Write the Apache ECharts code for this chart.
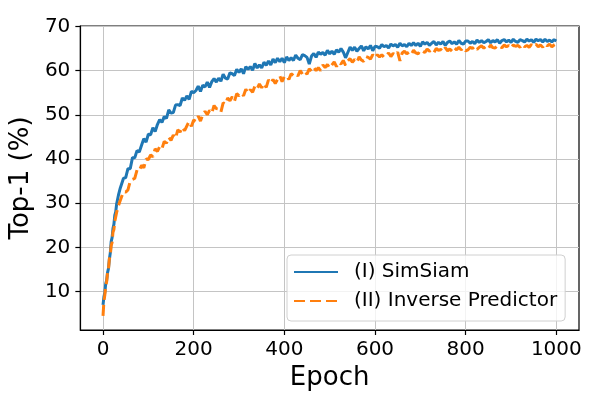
<!DOCTYPE html>
<html>
<head>
<meta charset="utf-8">
<script src="https://cdn.jsdelivr.net/npm/echarts@6/dist/echarts.min.js"></script>
<style>
html,body{margin:0;padding:0;background:#fff;}
#c{width:599px;height:402px;}
</style>
</head>
<body>
<div id="c"></div>
<script>
const epochs = [0,2,4,6,8,10,12,14,16,18,20,22,24,26,28,30,32,34,36,38,40,
45,50,55,60,65,70,75,80,85,90,95,100,105,110,115,120,125,130,135,140,145,150,155,160,165,170,175,180,185,190,195,200,
205,210,215,220,225,230,235,240,245,250,255,260,265,270,275,280,285,290,295,300,305,310,315,320,325,330,335,340,345,350,355,360,365,370,375,380,385,390,395,400,
405,410,415,420,425,430,435,440,445,450,455,460,465,470,475,480,485,490,495,500,505,510,515,520,525,530,535,540,545,550,555,560,565,570,575,580,585,590,595,600,
605,610,615,620,625,630,635,640,645,650,655,660,665,670,675,680,685,690,695,700,705,710,715,720,725,730,735,740,745,750,755,760,765,770,775,780,785,790,795,800,
805,810,815,820,825,830,835,840,845,850,855,860,865,870,875,880,885,890,895,900,905,910,915,920,925,930,935,940,945,950,955,960,965,970,975,980,985,990,995,1000];

const simsiam = [7.0,8.8,9.8,11.8,12.5,14.3,15.2,17.3,18.7,21.3,22.2,24.3,25.2,27.3,28.0,29.8,30.2,31.8,32.0,33.4,33.5,
35.6,35.8,37.8,37.8,40.3,40.3,41.9,41.6,43.1,44.6,43.8,45.6,45.5,47.1,46.2,47.8,48.9,48.3,49.6,49.2,51.1,50.4,50.5,52.2,52.3,52.1,53.8,53.3,54.3,53.5,55.3,55.0,
55.5,56.5,55.3,56.7,56.3,57.4,56.2,57.5,58.2,57.4,58.3,57.6,59.2,58.3,58.1,59.5,59.3,58.9,60.3,59.6,60.4,59.3,60.9,60.3,60.9,60.1,61.6,60.6,61.3,60.6,61.9,61.2,62.2,61.3,62.6,61.8,62.8,62.0,62.8,61.8,
63.1,62.3,62.9,62.3,63.5,62.8,62.5,63.6,63.4,63.0,61.5,63.3,63.9,63.0,64.2,63.7,64.1,63.5,64.6,63.8,64.4,63.7,64.7,64.2,65.0,64.2,62.9,64.1,65.3,64.6,65.3,64.4,65.0,65.6,64.5,65.4,64.9,65.7,64.5,65.5,
65.4,65.1,65.9,65.4,65.7,65.1,66.0,65.6,65.9,65.3,66.2,65.6,65.9,65.4,66.2,65.7,66.3,65.7,66.2,65.5,66.5,66.0,66.4,65.7,66.2,66.6,65.8,66.4,66.0,66.6,65.7,66.4,66.7,66.1,66.5,66.0,66.8,66.2,66.0,66.7,
66.7,66.2,66.6,66.1,66.9,66.4,66.8,66.3,66.6,67.0,66.3,66.8,66.5,67.0,66.2,66.8,67.0,66.5,66.9,66.4,67.1,66.6,66.4,67.0,66.8,66.5,67.1,66.7,67.0,66.4,67.1,66.8,67.0,66.5,67.1,66.6,66.9,66.5,67.0,66.7];

const inversePredictor = [4.5,7.8,9.2,11.3,12.2,14.3,15.0,17.4,18.1,20.4,21.1,23.5,24.0,25.9,26.1,27.9,27.8,29.4,29.2,30.6,30.4,
32.6,32.5,33.0,35.0,35.4,35.6,37.5,37.3,38.6,38.0,40.0,39.9,40.9,40.5,42.3,41.7,42.8,42.3,44.0,43.6,44.9,44.2,45.4,44.7,46.6,46.1,47.2,46.4,47.5,48.5,47.4,48.8,
48.5,49.7,48.6,50.0,50.8,50.0,51.0,50.4,52.1,51.4,51.3,50.6,52.7,52.4,53.8,53.2,54.1,53.1,54.8,54.3,54.9,54.3,55.8,54.9,55.7,55.1,56.5,55.9,57.0,56.1,57.1,56.2,57.9,57.2,58.0,57.1,58.0,58.8,57.5,58.7,
58.8,58.0,59.3,58.9,59.3,58.8,60.0,59.2,59.8,59.2,60.4,59.9,60.7,60.0,60.7,60.0,61.3,60.7,61.4,60.6,61.3,62.0,60.9,61.9,61.5,62.3,61.2,62.2,62.7,61.9,62.5,61.9,63.1,62.4,62.1,63.2,63.0,62.6,63.6,62.9,
63.6,63.1,63.6,63.0,63.5,64.0,63.2,63.9,63.5,64.2,62.2,64.0,64.4,63.8,64.2,63.7,64.6,64.0,63.8,64.6,64.4,64.1,64.9,64.4,64.7,64.1,65.0,64.6,64.8,64.3,65.2,64.5,64.9,64.4,65.2,64.7,65.3,64.7,65.2,64.5,
64.7,65.3,65.0,65.5,64.8,65.3,65.6,65.1,65.5,65.0,65.8,65.2,65.1,65.7,65.5,65.2,65.8,65.4,65.7,65.1,65.8,65.5,65.7,65.3,66.0,65.4,65.7,65.3,65.9,65.5,66.0,65.4,65.8,65.3,66.1,65.6,66.0,65.4,65.8,66.1];

const xTicks = [0,200,400,600,800,1000];
const yTicks = [10,20,30,40,50,60,70];
const seriesNames = ['(I) SimSiam','(II) Inverse Predictor'];

const FONT = 'DejaVu Sans';
const chart = echarts.init(document.getElementById('c'), null, {renderer:'canvas'});
chart.setOption({
  animation: false,
  backgroundColor: '#fff',
  grid: {left:76, right:20, top:26, bottom:72, show:true, borderColor:'#000', borderWidth:1.2, backgroundColor:'transparent'},
  legend: {
    orient:'vertical', left:287, top:255,
    data: seriesNames,
    itemWidth:44, itemHeight:14, itemGap:9,
    padding:[7,8,10,6],
    itemStyle:{opacity:0, color:'rgba(0,0,0,0)', borderWidth:0},
    backgroundColor:'rgba(255,255,255,0.8)', borderColor:'#d0d0d0', borderWidth:1, borderRadius:4,
    textStyle:{fontFamily:FONT, fontSize:20, color:'#000', lineHeight:20, padding:[0,0,0,11]}
  },
  xAxis: {
    type:'value', min:-50, max:1050,
    name:'Epoch', nameLocation:'middle', nameGap:34,
    nameTextStyle:{fontFamily:FONT, fontSize:26, color:'#000'},
    axisLine:{show:true, onZero:false, lineStyle:{color:'#000', width:1.2}},
    axisTick:{show:true, length:5, customValues:xTicks, lineStyle:{color:'#000', width:1.2}},
    axisLabel:{customValues:xTicks, formatter:(v)=>String(v), fontFamily:FONT, fontSize:20, color:'#000', margin:10},
    splitLine:{show:true, lineStyle:{color:'#c4c4c4', width:1}}
  },
  yAxis: {
    type:'value', min:1.3, max:70.1,
    name:'Top-1 (%)', nameLocation:'middle', nameGap:42,
    nameTextStyle:{fontFamily:FONT, fontSize:26, color:'#000'},
    axisLine:{show:true, onZero:false, lineStyle:{color:'#000', width:1.2}},
    axisTick:{show:true, length:5, customValues:yTicks, lineStyle:{color:'#000', width:1.2}},
    axisLabel:{customValues:yTicks, formatter:(v)=>String(v), fontFamily:FONT, fontSize:20, color:'#000', margin:10},
    splitLine:{show:true, lineStyle:{color:'#c4c4c4', width:1}}
  },
  series: [
    {name:seriesNames[0], type:'line', symbol:'none', data: epochs.map((e,i)=>[e, simsiam[i]]),
     lineStyle:{color:'#1f77b4', width:3}, itemStyle:{color:'#1f77b4'}},
    {name:seriesNames[1], type:'line', symbol:'none', data: epochs.map((e,i)=>[e, inversePredictor[i]]),
     lineStyle:{color:'#ff7f0e', width:3, type:[11,5]}, itemStyle:{color:'#ff7f0e'}}
  ]
});
</script>
</body>
</html>
